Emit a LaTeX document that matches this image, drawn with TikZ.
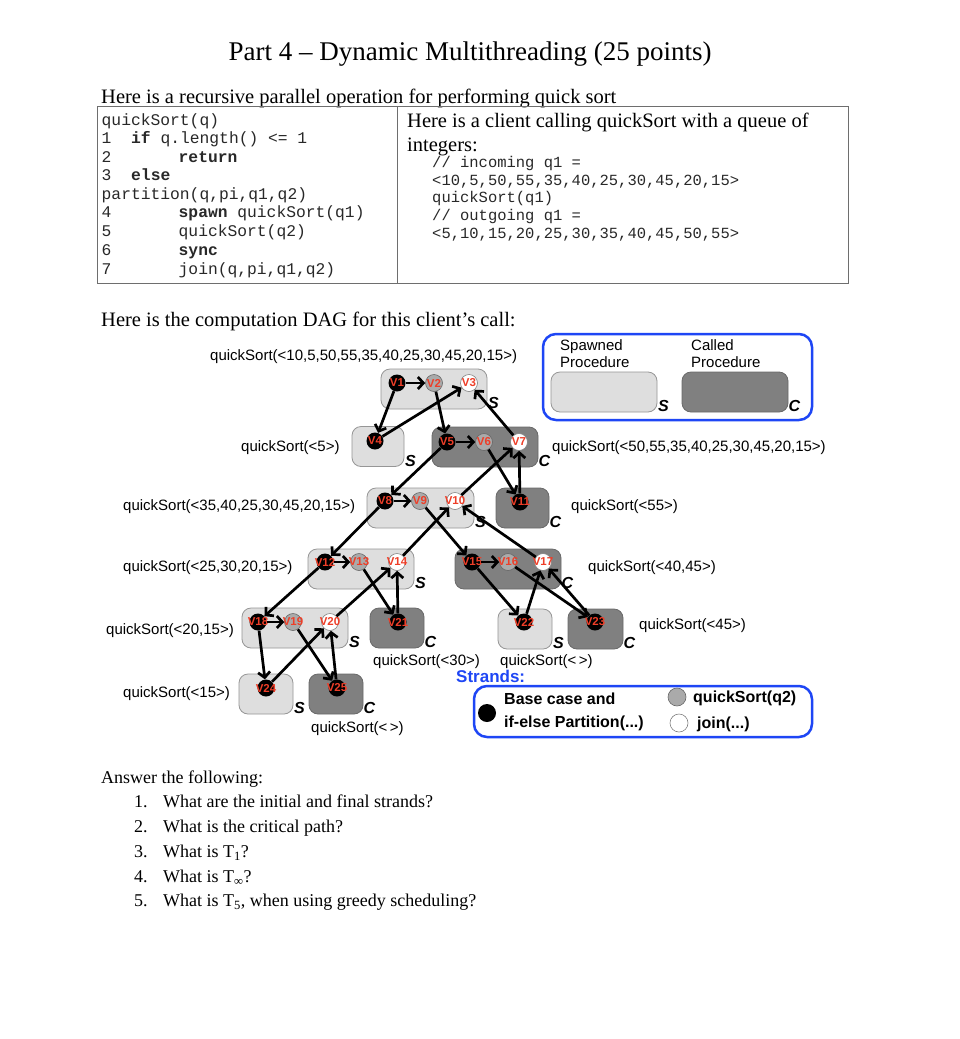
\documentclass[tikz,border=0pt]{standalone}
\usepackage{fontspec}
\setmainfont{Liberation Serif}
\newfontfamily\dagfont{Liberation Sans}
\newfontfamily\codefont{Liberation Mono}
\usetikzlibrary{arrows.meta}
\definecolor{lightbox}{RGB}{222,222,222}
\definecolor{lightborder}{RGB}{150,150,150}
\definecolor{darkbox}{RGB}{128,128,128}
\definecolor{darkborder}{RGB}{105,105,105}
\definecolor{nodegray}{RGB}{170,170,170}
\definecolor{vred}{RGB}{238,62,40}
\definecolor{legblue}{RGB}{30,70,245}
\definecolor{tabline}{RGB}{110,110,110}
\definecolor{codeink}{RGB}{40,40,40}
\newcommand{\vl}[1]{\makebox[0pt][c]{#1}}
\begin{document}
\begin{tikzpicture}[x=1pt,y=-1pt,
  txt/.style={anchor=mid west,inner sep=0pt},
  title/.style={anchor=mid,inner sep=0pt,font=\fontsize{27}{30}\selectfont},
  para/.style={txt,yshift=-4.5pt,font=\fontsize{20.5}{24}\selectfont},
  ans/.style={txt,yshift=-4.5pt,font=\fontsize{18}{22}\selectfont},
  lcode/.style={txt,yshift=-3.5pt,text=codeink,font=\codefont\fontsize{16.3}{19}\selectfont},
  rcode/.style={txt,yshift=-2.5pt,text=codeink,font=\codefont\fontsize{15.5}{18}\selectfont},
  qlab/.style={txt,yshift=-3.5pt,font=\dagfont\fontsize{15}{17}\selectfont},
  leglab/.style={txt,yshift=-3.5pt,font=\dagfont\fontsize{15}{17}\selectfont},
  legbold/.style={txt,yshift=-3.5pt,font=\dagfont\bfseries\fontsize{16}{18}\selectfont},
  sclab/.style={inner sep=0pt,font=\dagfont\bfseries\itshape\fontsize{16}{16}\selectfont},
  procbox/.style={rounded corners=9pt,inner sep=0pt,minimum height=40pt,line width=0.8pt},
  lbox/.style={procbox,fill=lightbox,draw=lightborder},
  dbox/.style={procbox,fill=darkbox,draw=darkborder},
  vnode/.style={circle,minimum size=17pt,inner sep=0pt,text=vred,
    font=\dagfont\bfseries\fontsize{11.5}{11.5}\selectfont},
  bn/.style={vnode,fill=black},
  gn/.style={vnode,fill=nodegray,draw=gray!80!black,line width=0.6pt},
  wn/.style={vnode,fill=white,draw=gray,line width=0.6pt},
  arr/.style={line width=2.7pt,-{Straight Barb[length=5.5pt,width=12pt]}},
  legframe/.style={draw=legblue,line width=2.5pt,rounded corners=13pt}
]
\useasboundingbox (0,0) rectangle (959,1039);
\fill[white] (0,0) rectangle (959,1039);

% ---------- title and table ----------
\node[title] (ttl) at (470,58) {Part 4 -- Dynamic Multithreading (25 points)};
\node[para] (intro) at (101,97) {Here is a recursive parallel operation for performing quick sort};
\draw[tabline,line width=0.9pt] (97,106) rectangle (848,283);
\draw[tabline,line width=0.9pt] (397,106) -- (397,283);

\node[lcode] (c0) at (101.5,120) {quickSort(q)};
\node[lcode] (c1n) at (101.5,137.3) {1};
\node[lcode] (c1) at (131,137.3) {\textbf{if} q.length() <= 1};
\node[lcode] (c2n) at (101.5,156.7) {2};
\node[lcode] (c2) at (178.5,156.7) {\textbf{return}};
\node[lcode] (c3n) at (101.5,175) {3};
\node[lcode] (c3) at (131,175) {\textbf{else}};
\node[lcode] (c3b) at (101.5,193.3) {partition(q,pi,q1,q2)};
\node[lcode] (c4n) at (101.5,211.7) {4};
\node[lcode] (c4) at (178.5,211.7) {\textbf{spawn} quickSort(q1)};
\node[lcode] (c5n) at (101.5,231) {5};
\node[lcode] (c5) at (178.5,231) {quickSort(q2)};
\node[lcode] (c6n) at (101.5,250) {6};
\node[lcode] (c6) at (178.5,250) {\textbf{sync}};
\node[lcode] (c7n) at (101.5,268.5) {7};
\node[lcode] (c7) at (178.5,268.5) {join(q,pi,q1,q2)};

\node[para] (cl1) at (407,121) {Here is a client calling quickSort with a queue of};
\node[para] (cl2) at (407,145) {integers:};
\node[rcode] (r1) at (432,163) {// incoming q1 =};
\node[rcode] (r2) at (432,181) {<10,5,50,55,35,40,25,30,45,20,15>};
\node[rcode] (r3) at (432,198) {quickSort(q1)};
\node[rcode] (r4) at (432,216) {// outgoing q1 =};
\node[rcode] (r5) at (432,234) {<5,10,15,20,25,30,35,40,45,50,55>};

\node[para] (dagintro) at (101,320) {Here is the computation DAG for this client's call:};

% ---------- procedure boxes ----------
\node[lbox,minimum width=106pt] (b1) at (434,389) {};
\node[lbox,minimum width=52pt] (b4) at (378,446.5) {};
\node[dbox,minimum width=106pt] (b5) at (485,447) {};
\node[lbox,minimum width=107pt] (b8) at (420.5,508) {};
\node[dbox,minimum width=53pt] (b11) at (522.5,508) {};
\node[lbox,minimum width=106pt] (b12) at (361,569) {};
\node[dbox,minimum width=106pt] (b15) at (508,569) {};
\node[lbox,minimum width=106pt] (b18) at (295,628) {};
\node[dbox,minimum width=54pt] (b21) at (397,628) {};
\node[lbox,minimum width=54pt] (b22) at (525,629) {};
\node[dbox,minimum width=55pt] (b23) at (595.5,629) {};
\node[lbox,minimum width=54pt] (b24) at (266,694) {};
\node[dbox,minimum width=54pt] (b25) at (336,694) {};

\foreach \b/\l in {b1/S,b4/S,b5/C,b8/S,b11/C,b12/S,b15/C,b18/S,b21/C,b22/S,b23/C,b24/S,b25/C}
  \node[sclab] (\b lab) at ([xshift=6pt,yshift=6pt]\b.south east) {\l};

% ---------- strand nodes ----------
\node[bn] (v1) at (397,383) {\vl{V1}};
\node[gn] (v2) at (434,383) {\vl{V2}};
\node[wn] (v3) at (469,383) {\vl{V3}};
\node[bn] (v4) at (375,441) {\vl{V4}};
\node[bn] (v5) at (447,442) {\vl{V5}};
\node[gn] (v6) at (484,442) {\vl{V6}};
\node[wn] (v7) at (519,442) {\vl{V7}};
\node[bn] (v8) at (385,501) {\vl{V8}};
\node[gn] (v9) at (420,501) {\vl{V9}};
\node[wn] (v10) at (455,501) {\vl{V10}};
\node[bn] (v11) at (520,502) {\vl{V11}};
\node[bn] (v12) at (325,562) {\vl{V12}};
\node[gn] (v13) at (359,562) {\vl{V13}};
\node[wn] (v14) at (397,562) {\vl{V14}};
\node[bn] (v15) at (472,562) {\vl{V15}};
\node[gn] (v16) at (508,562) {\vl{V16}};
\node[wn] (v17) at (543,562) {\vl{V17}};
\node[bn] (v18) at (258,622) {\vl{V18}};
\node[gn] (v19) at (293,622) {\vl{V19}};
\node[wn] (v20) at (330,622) {\vl{V20}};
\node[bn] (v21) at (398,622) {\vl{V21}};
\node[bn] (v22) at (524,622) {\vl{V22}};
\node[bn] (v23) at (595,622) {\vl{V23}};
\node[bn] (v24) at (266,688) {\vl{V24}};
\node[bn] (v25) at (337,688) {\vl{V25}};

% ---------- edges ----------
\foreach \a/\b in {v1/v2,v1/v4,v2/v5,v4/v3,v7/v3,
                   v5/v6,v5/v8,v6/v11,v10/v7,v11/v7,
                   v8/v9,v8/v12,v9/v15,v14/v10,v17/v10,
                   v12/v13,v12/v18,v13/v21,v20/v14,v21/v14,
                   v15/v16,v15/v22,v16/v23,v22/v17,v23/v17,
                   v18/v19,v18/v24,v19/v25,v24/v20,v25/v20}
  \draw[arr] (\a) -- (\b);

% ---------- call labels ----------
\node[qlab] (q0) at (210,355) {quickSort(<10,5,50,55,35,40,25,30,45,20,15>)};
\node[qlab] (q4) at (241,446) {quickSort(<5>)};
\node[qlab] (q5) at (552,446) {quickSort(<50,55,35,40,25,30,45,20,15>)};
\node[qlab] (q8) at (123,505) {quickSort(<35,40,25,30,45,20,15>)};
\node[qlab] (q11) at (571,505) {quickSort(<55>)};
\node[qlab] (q12) at (123,566) {quickSort(<25,30,20,15>)};
\node[qlab] (q15) at (588,566) {quickSort(<40,45>)};
\node[qlab] (q18) at (106,629) {quickSort(<20,15>)};
\node[qlab] (q23) at (639,624) {quickSort(<45>)};
\node[qlab] (q21) at (373,660) {quickSort(<30>)};
\node[qlab] (q22) at (500,660) {quickSort(<\,>)};
\node[qlab] (q24) at (123,692) {quickSort(<15>)};
\node[qlab] (q25) at (311,727) {quickSort(<\,>)};

% ---------- legend: procedures ----------
\draw[legframe] (543,334) rectangle (812,420);
\node[leglab] (lsp1) at (560,345) {Spawned};
\node[leglab] (lsp2) at (560,362) {Procedure};
\node[leglab] (lca1) at (691,345) {Called};
\node[leglab] (lca2) at (691,362) {Procedure};
\node[lbox,minimum width=106pt] (lb) at (604,392) {};
\node[dbox,minimum width=106pt] (db) at (735,392) {};
\node[sclab] (lblab) at ([xshift=6pt,yshift=6pt]lb.south east) {S};
\node[sclab] (dblab) at ([xshift=6pt,yshift=6pt]db.south east) {C};

% ---------- legend: strands ----------
\node[txt,yshift=-3.5pt,font=\dagfont\bfseries\fontsize{17}{19}\selectfont,text=legblue] (strands) at (456,677) {Strands:};
\draw[legframe] (474,686) rectangle (812,737);
\node[circle,fill=black,minimum size=18pt,inner sep=0pt] (lbn) at (487,713) {};
\node[legbold] (lt1) at (504,699) {Base case and};
\node[legbold] (lt2) at (504,722) {if-else Partition(...)};
\node[circle,fill=nodegray,draw=gray!80!black,line width=0.6pt,minimum size=18pt,inner sep=0pt] (lgn) at (677,697) {};
\node[legbold] (lt3) at (693,697) {quickSort(q2)};
\node[circle,fill=white,draw=gray,line width=0.6pt,minimum size=18pt,inner sep=0pt] (lwn) at (679,723) {};
\node[legbold] (lt4) at (697,723) {join(...)};

% ---------- questions ----------
\node[ans] (a0) at (101,777) {Answer the following:};
\node[ans] (a1n) at (134,801) {1.};
\node[ans] (a1) at (163,801) {What are the initial and final strands?};
\node[ans] (a2n) at (134,826) {2.};
\node[ans] (a2) at (163,826) {What is the critical path?};
\node[ans] (a3n) at (134,851) {3.};
\node[ans] (a3) at (163,851) {What is T\textsubscript{1}?};
\node[ans] (a4n) at (134,876) {4.};
\node[ans] (a4) at (163,876) {What is T\textsubscript{∞}?};
\node[ans] (a5n) at (134,900) {5.};
\node[ans] (a5) at (163,900) {What is T\textsubscript{5}, when using greedy scheduling?};
\end{tikzpicture}
\end{document}
